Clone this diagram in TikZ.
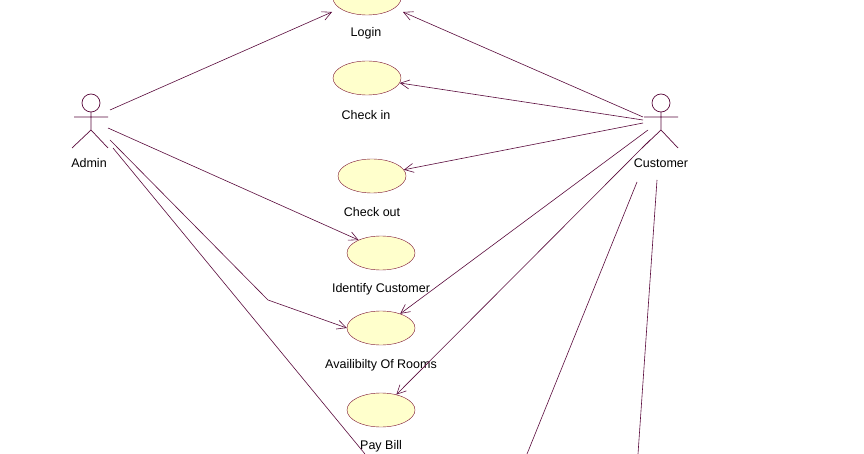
\documentclass[tikz,border=0pt]{standalone}
\usepackage{fontspec}
\setmainfont{Liberation Sans}
\usetikzlibrary{arrows.meta,shapes.geometric}
\definecolor{ln}{HTML}{5A0A3C}
\definecolor{uc}{HTML}{FFFFCC}
\definecolor{ucb}{HTML}{7A1030}
\begin{document}
\begin{tikzpicture}[x=1pt,y=-1pt,
  use/.style={ellipse,draw=ucb,fill=uc,minimum width=68pt,minimum height=34pt,inner sep=0pt},
  lab/.style={font=\fontsize{12.5}{14}\selectfont,inner sep=0pt},
  con/.style={draw=ln,line width=0.6pt},
  arr/.style={con,-{Straight Barb[length=9pt,width=9pt]}}]
\useasboundingbox[fill=white] (0,0) rectangle (864,454);
\begin{scope}[ln,line width=0.7pt]
\draw (91,103) circle (9);
\draw (91,112) -- (91,130) (74,117) -- (108,117) (72,148) -- (91,130) -- (108,148);
\draw (661,103) circle (9);
\draw (661,112) -- (661,130) (644,117) -- (678,117) (642,148) -- (661,130) -- (678,148);
\end{scope}
\node[lab] (admin) at (89,163) {Admin};
\node[lab] (cust) at (661,163) {Customer};
\node[use] (login) at (367,-2) {};
\node[use] (checkin) at (367,78) {};
\node[use] (checkout) at (372,176) {};
\node[use] (ident) at (381,253) {};
\node[use] (avail) at (381,328) {};
\node[use] (pay) at (381,410) {};
\node[lab] (llogin) at (366,33) {Login};
\node[lab] (lcheckin) at (366,115) {Check in};
\node[lab] (lcheckout) at (372,212) {Check out};
\node[lab] (lident) at (381,289) {Identify Customer};
\node[lab] (lavail) at (381,365) {Availibilty Of Rooms};
\node[lab] (lpay) at (381,446) {Pay Bill};
\coordinate (a1) at (110,110); \coordinate (a2) at (108,128);
\coordinate (a3) at (110,140); \coordinate (a4) at (113,148);
\coordinate (bend) at (268,300); \coordinate (aend) at (365,454);
\coordinate (c1) at (643,117); \coordinate (c2) at (643,120);
\coordinate (c3) at (643,123); \coordinate (c4) at (648,130);
\coordinate (c5) at (650,140); \coordinate (c6) at (637,182);
\coordinate (c7) at (657,180);
\coordinate (e6) at (527,454); \coordinate (e7) at (638,454);
\draw[arr] (a1) -- (332,12);
\draw[arr] (a2) -- (ident.150);
\draw[arr] (a3) -- (bend) -- (avail.west);
\draw[con] (a4) -- (aend);
\draw[arr] (c1) -- (403,12);
\draw[arr] (c2) -- (checkin);
\draw[arr] (c3) -- (checkout);
\draw[arr] (c4) -- (avail);
\draw[arr] (c5) -- (pay);
\draw[con] (c6) -- (e6);
\draw[con] (c7) -- (e7);
\end{tikzpicture}
\end{document}
